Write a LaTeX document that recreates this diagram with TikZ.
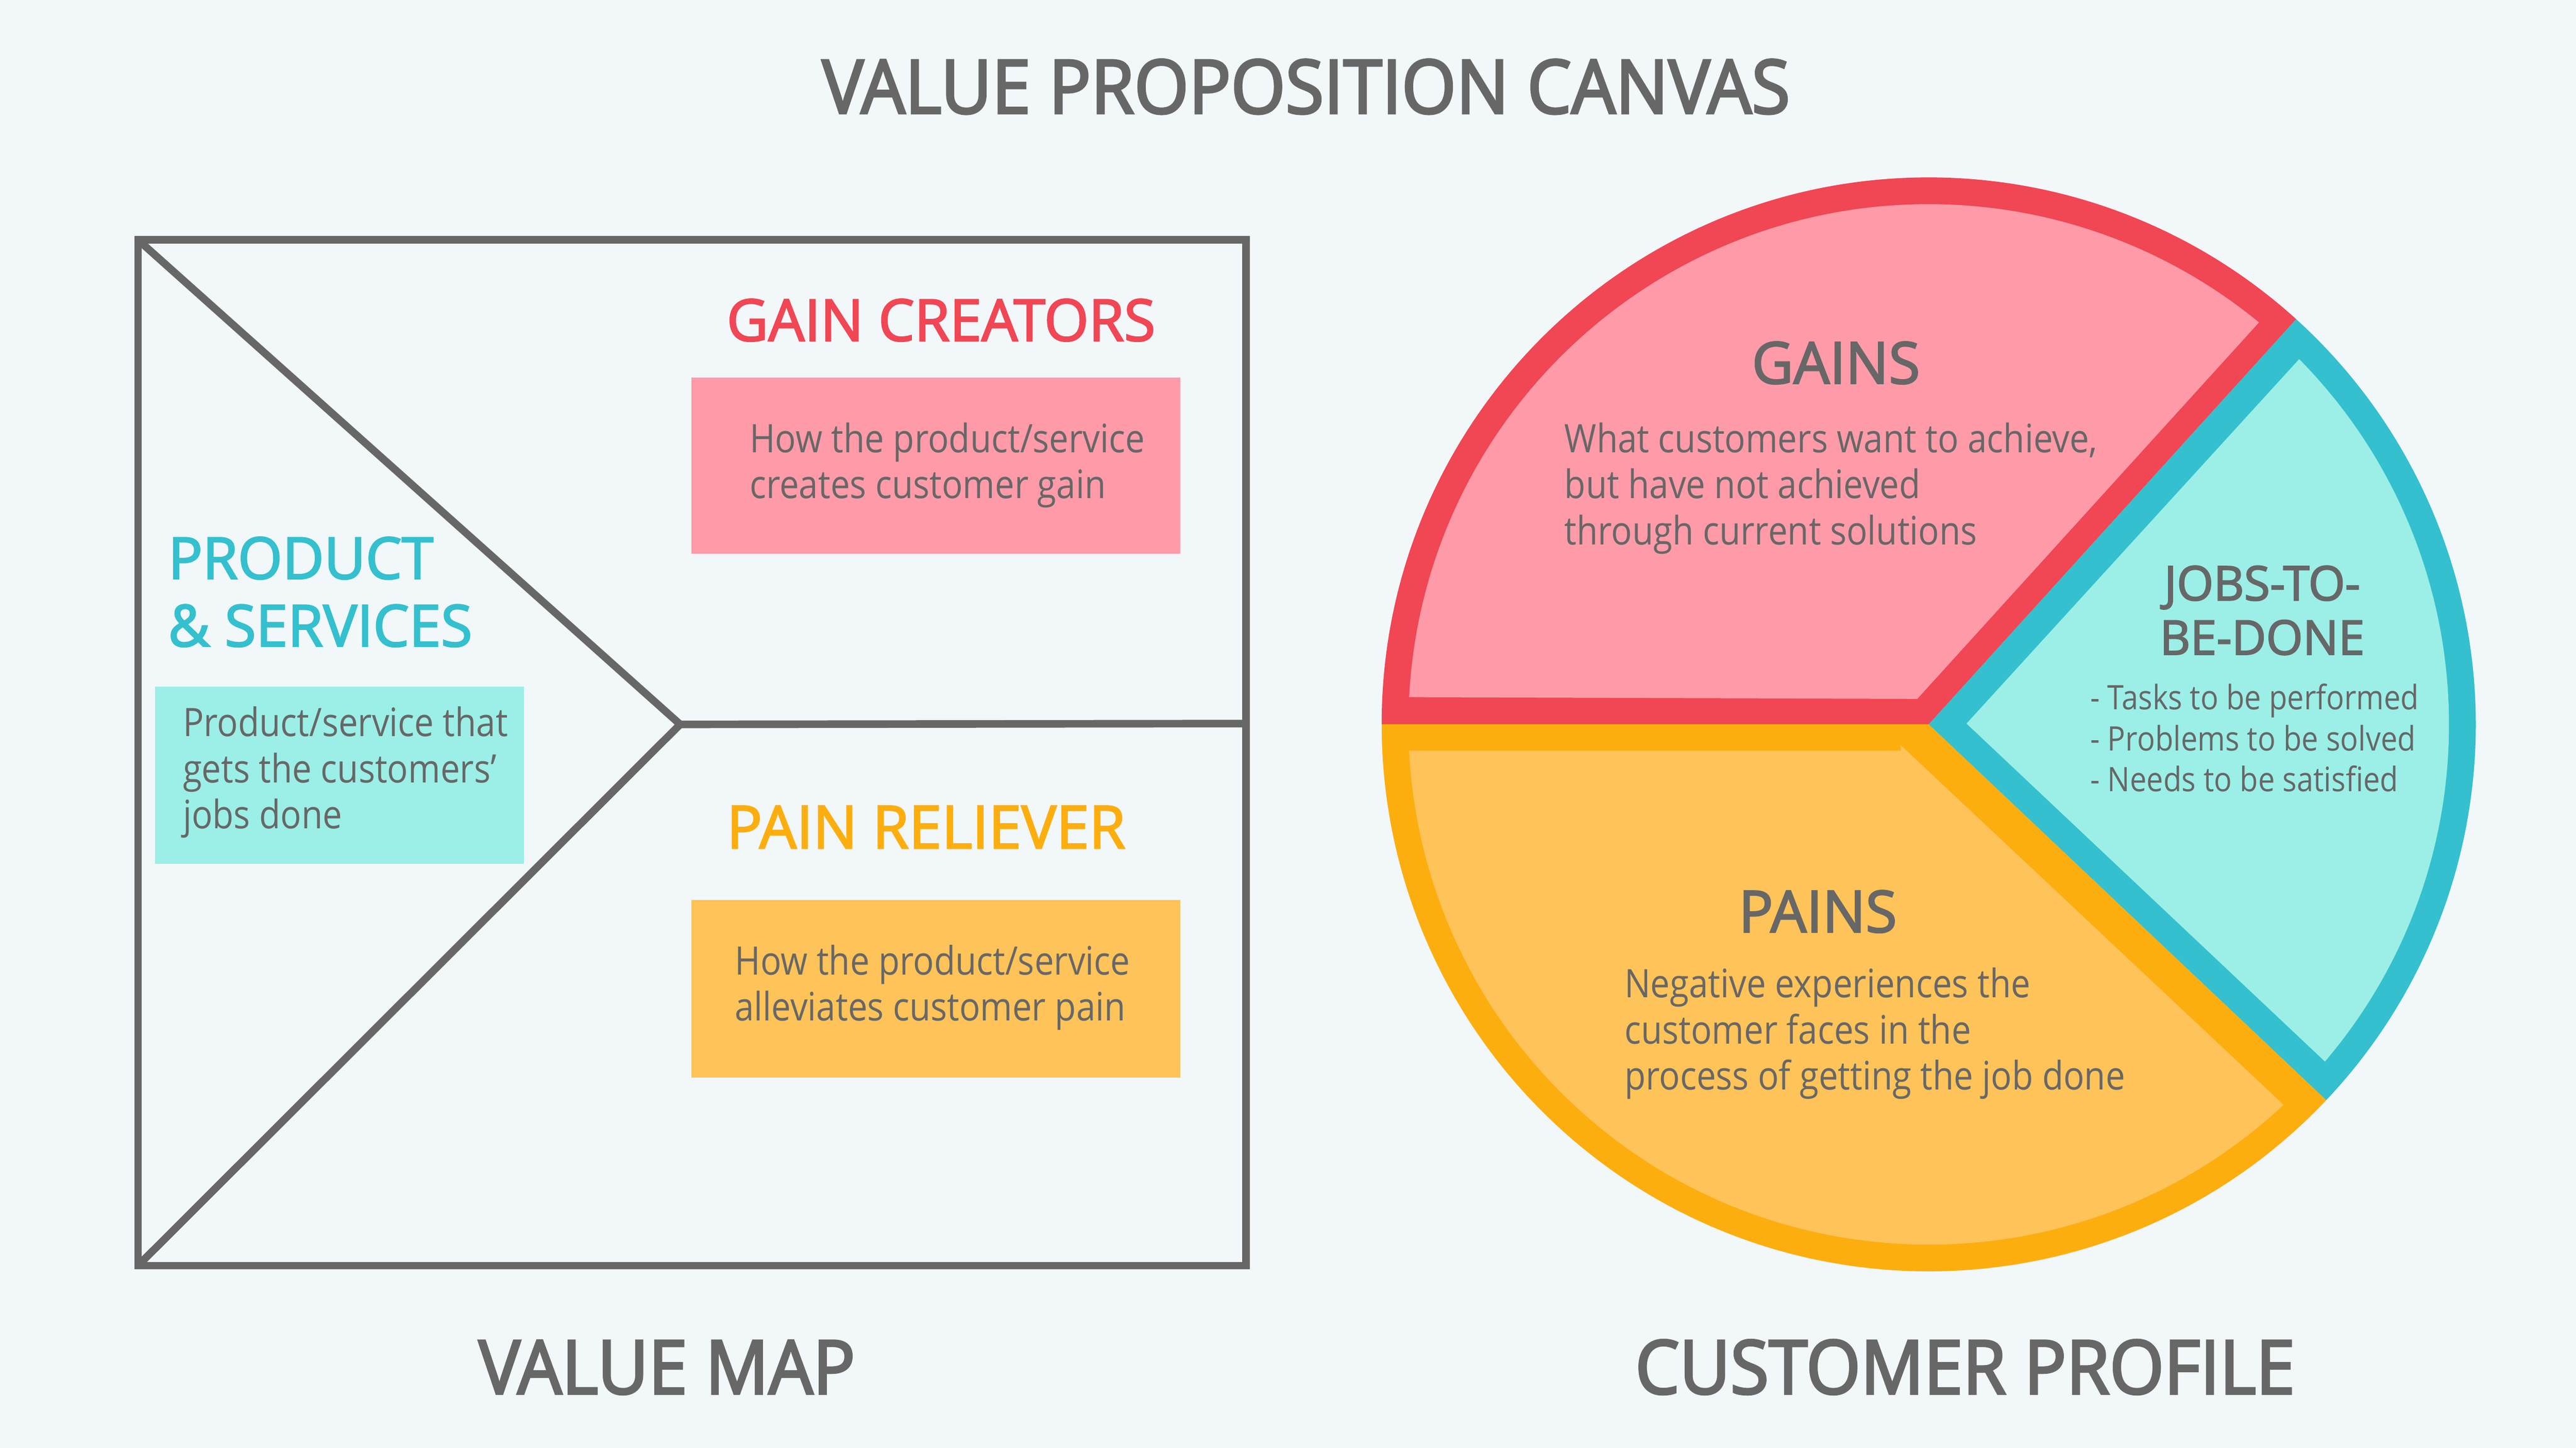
\documentclass[tikz,border=0pt]{standalone}
\usepackage{fontspec}
\setmainfont[FakeStretch=0.882]{Open Sans}
\newfontfamily\headfont[FakeBold=2.5,FakeStretch=0.99]{Open Sans}
\newfontfamily\capfont[FakeBold=3,FakeStretch=0.94]{Open Sans}
\definecolor{bgcol}{HTML}{F2F7FA}
\definecolor{greycol}{HTML}{676767}
\definecolor{redcol}{HTML}{F14654}
\definecolor{pinkcol}{HTML}{FF9BA8}
\definecolor{tealcol}{HTML}{34C0CE}
\definecolor{aquacol}{HTML}{9BEFE6}
\definecolor{orangecol}{HTML}{FDAE0F}
\definecolor{sandcol}{HTML}{FEC359}
\tikzset{
    caption/.style={anchor=base west,inner sep=0pt,text=greycol,font=\capfont\fontsize{25.8}{30}\selectfont},
    heading/.style={anchor=base west,inner sep=0pt,align=left,font=\headfont\fontsize{20}{23.4}\selectfont},
    bodytext/.style={anchor=base west,inner sep=0pt,align=left,text=greycol,font=\fontsize{13.6}{15.96}\selectfont},
    frameline/.style={draw=greycol,line width=4.6*0.02cm,line join=miter}
}
\begin{document}
\begin{tikzpicture}[x=0.02cm,y=0.02cm]
        \useasboundingbox[fill=bgcol] (0,0) rectangle (1568,881.5);
        %% Value map
        \coordinate (tl) at (84,735.5);
        \coordinate (bl) at (84,111);
        \coordinate (tr) at (758.5,735.5);
        \coordinate (tip) at (414,440.5);
        \coordinate (mr) at (758.5,441);
        \draw[frameline] (bl) rectangle (tr);
        \draw[frameline] (tl) -- (tip) -- (bl);
        \draw[frameline] (tip) -- (mr);
        \fill[pinkcol] (421,544.5) rectangle (718.5,651.5);
        \fill[sandcol] (421,225.5) rectangle (718.5,333.5);
        \fill[aquacol] (94.5,355.5) rectangle (319,463.5);
        %% Customer profile
        \coordinate (c) at (1174,440.5);
        \fill[redcol] ([shift={(c)}]180:333) arc[start angle=180,end angle=47.8,radius=333] -- (c) -- cycle;
        \fill[tealcol] ([shift={(c)}]47.8:333) arc[start angle=47.8,end angle=-43.4,radius=333] -- (c) -- cycle;
        \fill[orangecol] ([shift={(c)}]-43.4:333) arc[start angle=-43.4,end angle=-180,radius=333] -- (c) -- cycle;
        \fill[pinkcol] ([shift={(c)}]177:316.7) arc[start angle=177,end angle=50.6,radius=316.7] -- (1167,456) -- cycle;
        \fill[aquacol] ([shift={(c)}]44.6:316.7) arc[start angle=44.6,end angle=-40.4,radius=316.7] -- (1197,441) -- cycle;
        \fill[sandcol] ([shift={(c)}]-47:316.7) arc[start angle=-47,end angle=-177.1,radius=316.7] -- (1157,424.5) -- (1157,427.8) -- cycle;
        %% Captions
        \node[caption] (title) at (500,812.5) {VALUE PROPOSITION CANVAS};
        \node[caption] (valuemap) at (291,33) {VALUE MAP};
        \node[caption] (profile) at (995,33) {CUSTOMER PROFILE};
        %% Value map labels
        \node[heading,text=redcol] (creators) at (442,674) {GAIN CREATORS};
        \node[bodytext] (creatorstext) at (456,578) {How the product/service\\creates customer gain};
        \node[heading,text=orangecol,font=\headfont\fontsize{20.6}{23.4}\selectfont] (reliever) at (442,365) {PAIN RELIEVER};
        \node[bodytext] (relievertext) at (447,260) {How the product/service\\alleviates customer pain};
        \node[heading,text=tealcol] (services) at (102,488) {PRODUCT\\\& SERVICES};
        \node[bodytext] (servicestext) at (111,377) {Product/service that\\gets the customers’\\jobs done};
        %% Customer profile labels
        \node[heading,text=greycol] (gains) at (1066,648) {GAINS};
        \node[bodytext] (gainstext) at (952,550) {What customers want to achieve,\\but have not achieved\\through current solutions};
        \node[heading,text=greycol] (pains) at (1058,314) {PAINS};
        \node[bodytext] (painstext) at (988.5,218) {Negative experiences the\\customer faces in the\\process of getting the job done};
        \node[heading,text=greycol,align=center,font=\headfont\fontsize{16.5}{18.8}\selectfont,anchor=base] (jobs) at (1377,483) {JOBS-TO-\\BE-DONE};
        \node[bodytext,font=\fontsize{11.7}{14.25}\selectfont] (jobstext) at (1272,399.5) {- Tasks to be performed\\- Problems to be solved\\- Needs to be satisfied};
    \end{tikzpicture}
\end{document}
